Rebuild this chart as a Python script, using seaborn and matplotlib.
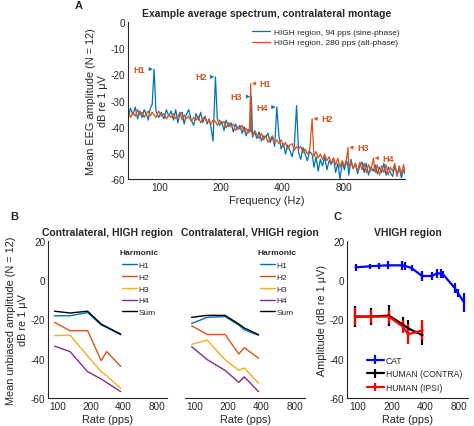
import numpy as np
import pandas as pd
import matplotlib
matplotlib.use("Agg")
import matplotlib.pyplot as plt
import seaborn as sns
from matplotlib.ticker import FixedLocator, FixedFormatter, NullLocator

# ---------------- data ----------------
# Panel A: spectrum (frequency grid shared by both series)
freq = [70, 72, 74, 76, 78, 80, 82, 84, 86, 88,
        90, 92, 94, 96, 99, 102, 105, 108, 111, 114,
        117, 120, 123, 126, 129, 132, 135, 139, 143, 147,
        151, 155, 159, 163, 167, 171, 175, 179, 183, 188,
        192, 197, 202, 207, 212, 218, 224, 230, 236, 242,
        248, 254, 260, 266, 272, 276, 280, 282, 286, 293,
        300, 308, 316, 324, 332, 340, 349, 358, 367, 376,
        385, 395, 405, 415, 425, 436, 447, 458, 470, 481,
        493, 505, 518, 531, 545, 560, 572, 586, 600, 615,
        630, 646, 662, 679, 696, 713, 731, 749, 768, 787,
        807, 827, 840, 848, 869, 891, 913, 936, 960, 984,
        1008, 1033, 1059, 1086, 1120, 1141, 1170, 1199, 1229, 1260,
        1292, 1324, 1357, 1391, 1426, 1462, 1499, 1536, 1575, 1600]

spec_94_sine = [-36.5, -33.0, -35.5, -32.5, -37.0, -34.0, -36.5, -33.5, -35.0, -37.5,
                -33.0, -31.5, -18.0, -34.0, -36.5, -34.5, -37.0, -33.5, -36.0, -34.0,
                -37.5, -33.5, -38.5, -35.0, -34.5, -39.0, -35.5, -33.5, -37.5, -39.5,
                -35.0, -37.5, -34.5, -38.5, -36.0, -39.0, -37.0, -40.5, -45.5, -21.0,
                -37.0, -39.5, -38.0, -41.5, -37.5, -40.0, -38.5, -42.0, -39.0, -41.0,
                -39.5, -42.5, -40.0, -43.5, -41.0, -42.0, -41.5, -28.5, -44.0, -42.0,
                -44.5, -42.0, -45.5, -43.5, -44.0, -42.5, -46.0, -44.0, -47.5, -32.5,
                -43.5, -48.5, -46.5, -50.5, -47.0, -49.0, -51.5, -47.5, -32.0, -50.0,
                -52.5, -48.0, -50.5, -53.0, -49.5, -50.5, -55.5, -51.5, -57.0, -52.5,
                -55.0, -51.5, -56.5, -53.0, -54.5, -52.0, -57.5, -54.0, -60.0, -53.5,
                -56.5, -53.0, -55.0, -58.5, -52.5, -56.0, -54.0, -58.0, -55.0, -53.5,
                -57.5, -54.0, -58.5, -55.5, -57.0, -54.5, -58.0, -55.5, -57.5, -54.0,
                -58.5, -55.5, -57.5, -59.0, -55.0, -58.0, -56.0, -59.5, -56.5, -58.0]

spec_280_alt = [-34.0, -36.5, -34.5, -36.0, -33.5, -35.5, -34.5, -36.5, -35.0, -34.0,
                -36.0, -34.5, -35.5, -36.5, -34.0, -36.0, -35.0, -37.0, -35.5, -36.5,
                -35.0, -37.0, -36.0, -34.5, -37.5, -35.5, -37.0, -36.0, -38.0, -36.5,
                -37.5, -36.0, -38.5, -37.0, -36.0, -38.5, -37.5, -39.0, -37.5, -38.0,
                -39.5, -37.5, -39.0, -38.0, -40.5, -38.5, -40.0, -39.0, -41.5, -40.0,
                -41.0, -39.5, -42.0, -40.5, -42.5, -41.0, -23.5, -41.5, -43.5, -41.5,
                -43.0, -44.5, -42.5, -45.0, -43.5, -46.0, -44.5, -43.5, -46.5, -45.0,
                -46.5, -45.0, -47.5, -46.0, -48.5, -47.0, -46.5, -49.0, -47.5, -48.5,
                -47.5, -50.0, -48.5, -50.5, -49.0, -37.0, -51.5, -49.5, -52.0, -50.5,
                -52.5, -50.5, -53.0, -51.5, -54.0, -52.0, -54.5, -52.0, -55.5, -53.0,
                -55.0, -52.5, -48.0, -55.5, -53.5, -56.0, -54.0, -57.0, -53.5, -56.5,
                -54.0, -57.5, -54.5, -57.0, -52.0, -57.5, -54.5, -58.5, -55.0, -57.5,
                -54.5, -58.5, -55.5, -57.0, -54.0, -59.0, -55.0, -58.0, -54.5, -57.5]

series_names = ["HIGH region, 94 pps (sine-phase)", "HIGH region, 280 pps (alt-phase)"]
harm_labels = ["H1", "H2", "H3", "H4"]
harm_94 = [94, 188, 282, 376]
harm_280 = [280, 560, 840, 1120]

# Panel B
rates = [94, 130, 188, 250, 280, 376]
harmonics = ["H1", "H2", "H3", "H4", "Sum"]
high_vals = {
    "H1": [-18.1, -18.1, -16.5, -22.8, -24.0, -27.8],
    "H2": [-21.4, -25.7, -25.7, -40.9, -36.3, -43.8],
    "H3": [-28.2, -27.9, -38.5, -46.5, -48.5, -55.0],
    "H4": [-33.5, -36.3, -46.5, -50.2, -52.0, -56.6],
    "Sum": [-15.8, -16.7, -15.8, -22.3, -23.8, -27.4],
}
vhigh_vals = {
    "H1": [-22.0, -18.9, -18.5, -22.8, -25.2, -28.0],
    "H2": [-23.2, -27.6, -27.6, -37.5, -34.3, -39.6],
    "H3": [-32.6, -30.5, -40.4, -45.8, -44.6, -52.3],
    "H4": [-33.8, -40.4, -45.8, -51.9, -49.1, -56.6],
    "Sum": [-18.9, -17.9, -17.9, -22.3, -24.3, -27.7],
}

# Panel C
cat_rates = [95, 127, 154, 185, 247, 261, 300, 373, 458, 505, 548, 579, 730, 782, 885]
cat_amp = [6.5, 7.0, 7.3, 7.5, 7.5, 7.3, 6.1, 2.1, 2.1, 3.4, 3.4, 2.7, -4.0, -6.7, -11.3]
cat_err = [1.9, 1.4, 1.6, 2.0, 2.2, 2.0, 1.4, 2.7, 1.9, 2.1, 2.2, 1.7, 2.5, 2.1, 5.0]
human_rates = [94, 130, 188, 250, 280, 376]
contra_amp = [-18.5, -18.5, -18.0, -22.5, -24.5, -28.0]
contra_err = [5.5, 4.5, 5.5, 4.0, 4.5, 5.0]
ipsi_amp = [-18.5, -18.5, -18.5, -23.5, -27.5, -25.5]
ipsi_err = [4.5, 3.5, 3.5, 3.5, 5.0, 5.0]

# ---------------- style ----------------
sns.set_theme(style="white")
plt.rcParams["font.family"] = ["Liberation Sans", "DejaVu Sans"]
plt.rcParams["axes.unicode_minus"] = False

BLUE, ORANGE, YELLOW, PURPLE = "#0072BD", "#D95319", "#EDB120", "#7E2F8E"
AX = "#262626"
W, H = 474, 427
fig = plt.figure(figsize=(W / 100, H / 100), dpi=100)


def box(l, t, r, b):
    return [l / W, 1 - b / H, (r - l) / W, (b - t) / H]


def style(ax, xt, yt, show_y=True):
    ax.set_xscale("log", base=2)
    ax.xaxis.set_major_locator(FixedLocator(xt))
    ax.xaxis.set_major_formatter(FixedFormatter([str(v) for v in xt]))
    ax.xaxis.set_minor_locator(NullLocator())
    ax.set_yticks(yt)
    for s in ["top", "right"]:
        ax.spines[s].set_visible(False)
    for s in ["left", "bottom"]:
        ax.spines[s].set_color(AX)
        ax.spines[s].set_linewidth(0.8)
    ax.tick_params(direction="in", length=3, width=0.8, colors=AX,
                   labelsize=7.2, pad=2, labelcolor=AX)
    if not show_y:
        ax.spines["left"].set_visible(False)
        ax.tick_params(axis="y", left=False, labelleft=False)
    ax.set_facecolor("white")


# ---------------- Panel A ----------------
axA = fig.add_axes(box(128, 23, 405, 180))
dfA = pd.DataFrame({
    "f": freq * 2,
    "db": spec_94_sine + spec_280_alt,
    "s": [series_names[0]] * len(freq) + [series_names[1]] * len(freq),
})
sns.lineplot(data=dfA, x="f", y="db", hue="s", hue_order=series_names,
             palette=[BLUE, ORANGE], linewidth=0.9, estimator=None,
             errorbar=None, sort=False, ax=axA)
style(axA, [100, 200, 400, 800], list(range(0, -61, -10)))
axA.set_xlim(70, 1600)
axA.set_ylim(-60, 0)
axA.set_xlabel("Frequency (Hz)", fontsize=7.8, color=AX, labelpad=2)
axA.set_ylabel("Mean EEG amplitude (N = 12)\ndB re 1 \u03bcV", fontsize=7.8,
               color=AX, labelpad=2)
axA.set_title("Example average spectrum, contralateral montage", fontsize=7.5,
              fontweight="bold", pad=4)
legA = axA.legend(frameon=False, fontsize=6, loc="upper right",
                  bbox_to_anchor=(1.0, 1.0), handlelength=2.2,
                  handletextpad=0.4, borderaxespad=0.3, labelspacing=0.35)
for t in legA.get_texts():
    t.set_color(AX)

arrow_style = "-|>,head_length=0.35,head_width=0.18"
for lab, f in zip(harm_labels, harm_94):
    v = spec_94_sine[freq.index(f)]
    axA.annotate(lab, xy=(f, v), xytext=(-6.5, 0), textcoords="offset points",
                 ha="right", va="center", color=ORANGE, fontsize=6.5,
                 fontweight="bold",
                 arrowprops=dict(arrowstyle=arrow_style, color=BLUE, lw=0.4,
                                 shrinkA=1.5, shrinkB=1.0))
for lab, f in zip(harm_labels, harm_280):
    v = spec_280_alt[freq.index(f)]
    axA.annotate(lab, xy=(f, v), xytext=(6.5, 0), textcoords="offset points",
                 ha="left", va="center", color=ORANGE, fontsize=6.5,
                 fontweight="bold",
                 arrowprops=dict(arrowstyle=arrow_style, color=ORANGE, lw=0.4,
                                 shrinkA=1.5, shrinkB=1.0))

# ---------------- Panel B ----------------
pal = [BLUE, ORANGE, YELLOW, PURPLE, "black"]


def panel_b(ax, vals, title, show_y, leg_x, title_x):
    rows = []
    for h in harmonics:
        for r, v in zip(rates, vals[h]):
            rows.append((r, v, h))
    df = pd.DataFrame(rows, columns=["rate", "amp", "Harmonic"])
    sns.lineplot(data=df, x="rate", y="amp", hue="Harmonic", hue_order=harmonics,
                 palette=pal, linewidth=1.0, estimator=None, errorbar=None, ax=ax)
    style(ax, [100, 200, 400, 800], [20, 0, -20, -40, -60], show_y=show_y)
    ax.set_xlim(82, 985)
    ax.set_ylim(-60, 20)
    ax.set_xlabel("Rate (pps)", fontsize=7.8, color=AX, labelpad=2)
    ax.set_title(title, fontsize=7.5, fontweight="bold", pad=4, x=title_x)
    leg = ax.legend(title="Harmonic", frameon=False, fontsize=6,
                    title_fontsize=6, loc="upper left",
                    bbox_to_anchor=(leg_x, 0.95), handlelength=1.8,
                    handletextpad=0.2, labelspacing=0.48, borderpad=0,
                    borderaxespad=0)
    leg.get_title().set_fontweight("bold")
    leg._legend_box.sep = 4
    for t in leg.get_texts():
        t.set_color(AX)


axB1 = fig.add_axes(box(48, 241.7, 166.7, 399.3))
panel_b(axB1, high_vals, "Contralateral, HIGH region", True, 0.6, 0.5)
axB1.set_ylabel("Mean unbiased amplitude (N = 12)\ndB re 1 \u03bcV", fontsize=7.8,
                color=AX, labelpad=2)

axB2 = fig.add_axes(box(185, 241.7, 305, 399.3))
panel_b(axB2, vhigh_vals, "Contralateral, VHIGH region", False, 0.6, 0.54)
axB2.set_ylabel("")

# ---------------- Panel C ----------------
axC = fig.add_axes(box(347.3, 241.7, 468, 399.3))
axC.errorbar(cat_rates, cat_amp, yerr=cat_err, color="#0000FF", lw=1.6,
             elinewidth=1.6, capsize=0, label="CAT")
axC.errorbar(human_rates, contra_amp, yerr=contra_err, color="black", lw=1.6,
             elinewidth=1.6, capsize=0, label="HUMAN (CONTRA)")
axC.errorbar(human_rates, ipsi_amp, yerr=ipsi_err, color="#FF0000", lw=1.6,
             elinewidth=1.6, capsize=0, label="HUMAN (IPSI)")
style(axC, [100, 200, 400, 800], [20, 0, -20, -40, -60])
axC.set_xlim(80, 960)
axC.set_ylim(-60, 20)
axC.set_xlabel("Rate (pps)", fontsize=7.8, color=AX, labelpad=2)
axC.set_ylabel("Amplitude (dB re 1 \u03bcV)", fontsize=7.8, color=AX, labelpad=2)
axC.set_title("VHIGH region", fontsize=7.5, fontweight="bold", pad=4)
legC = axC.legend(frameon=False, fontsize=6.2, loc="lower left",
                  bbox_to_anchor=(0.16, 0.04), handlelength=2.0,
                  handletextpad=0.2, labelspacing=0.55, borderpad=0,
                  borderaxespad=0)
for t in legC.get_texts():
    t.set_color(AX)

# panel letters
fig.text(75 / W, 1 - 6 / H, "A", fontsize=8, fontweight="bold", va="center")
fig.text(10 / W, 1 - 217 / H, "B", fontsize=8, fontweight="bold", va="center")
fig.text(333 / W, 1 - 217 / H, "C", fontsize=8, fontweight="bold", va="center")

fig.savefig("out.png", dpi=100, facecolor="white")
